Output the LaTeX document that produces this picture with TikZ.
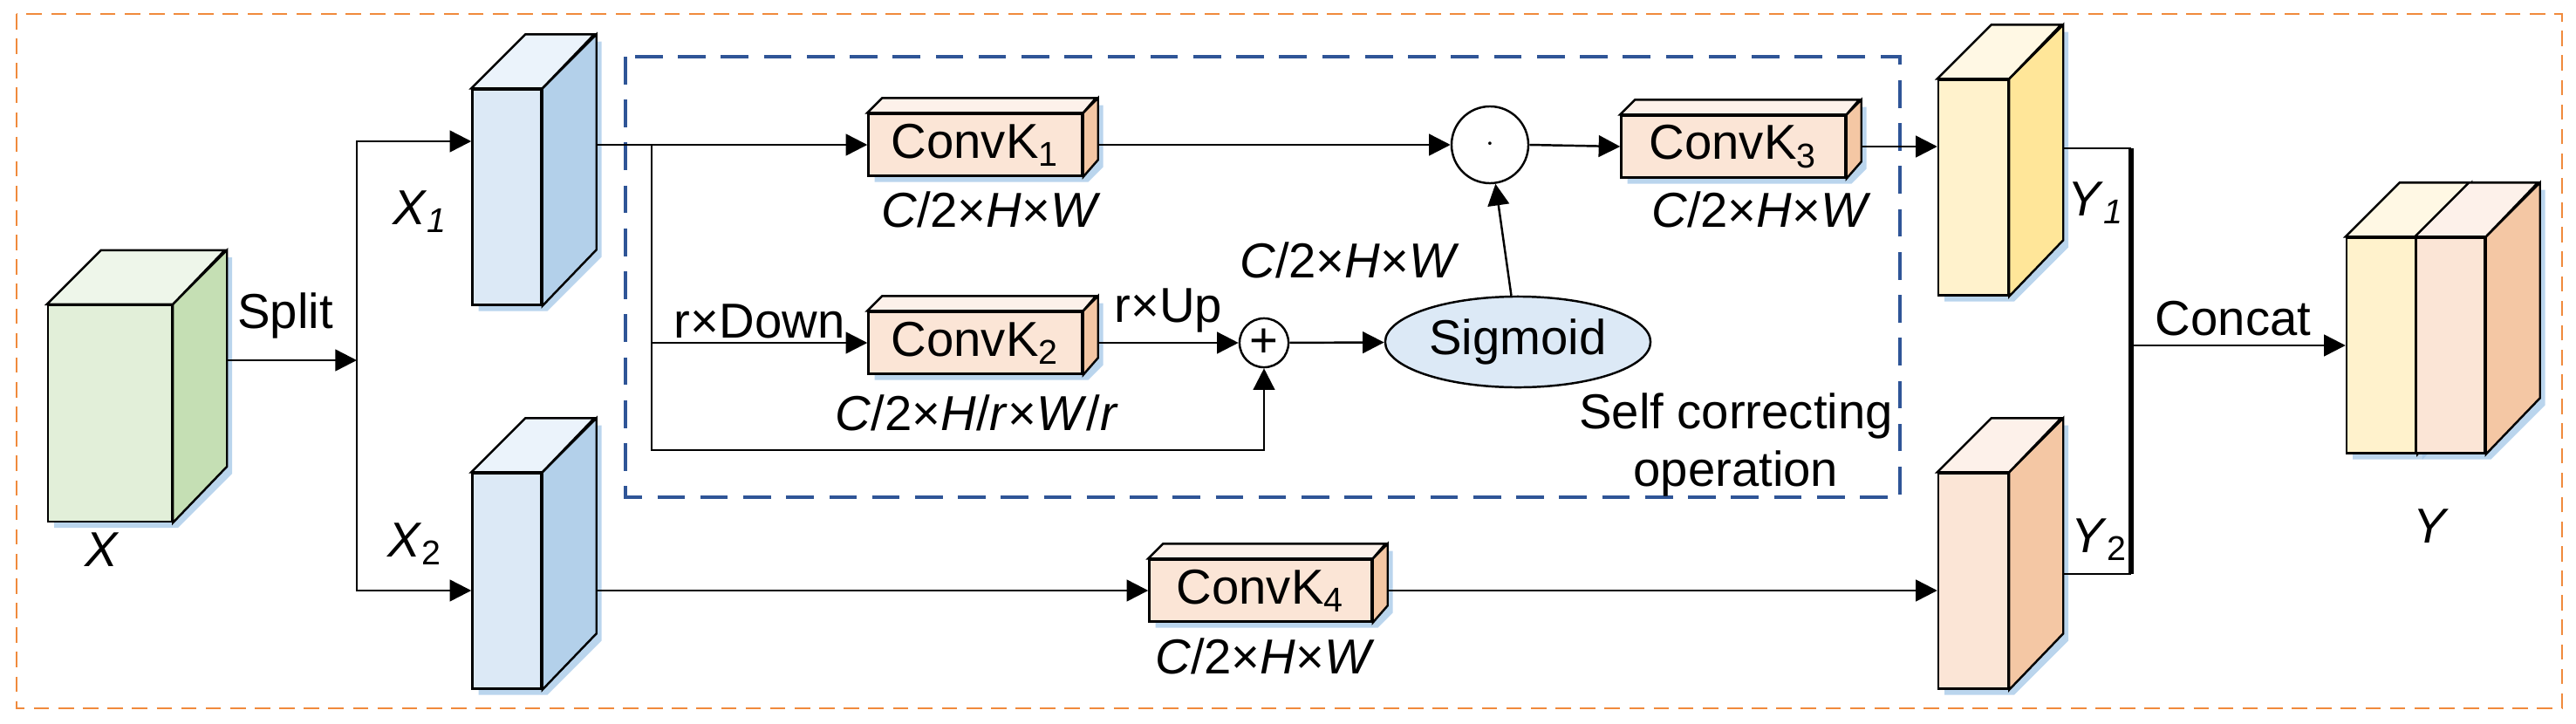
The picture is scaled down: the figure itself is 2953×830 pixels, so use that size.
\documentclass[tikz,border=0pt]{standalone}
\usepackage{fontspec}
\setmainfont{Liberation Sans}
\usetikzlibrary{arrows.meta,shapes.geometric}

\definecolor{grnF}{HTML}{E2EFD9}
\definecolor{grnS}{HTML}{C5DFB4}
\definecolor{grnT}{HTML}{EEF6EA}
\definecolor{bluF}{HTML}{DCE9F6}
\definecolor{bluS}{HTML}{B3D0EA}
\definecolor{bluT}{HTML}{EBF3FB}
\definecolor{ylwF}{HTML}{FFF2CC}
\definecolor{ylwS}{HTML}{FFE699}
\definecolor{ylwT}{HTML}{FFF8E4}
\definecolor{pchF}{HTML}{FBE5D6}
\definecolor{pchS}{HTML}{F4C7A4}
\definecolor{pchT}{HTML}{FDF1EA}
\definecolor{shd}{HTML}{9DC3E6}
\definecolor{bordO}{HTML}{F08A3C}
\definecolor{bordB}{HTML}{2F5597}

\tikzset{
  txt/.style={font=\fontsize{16}{19}\selectfont, inner sep=1pt},
  cubefront/.style={draw, line width=0.7pt, inner sep=0pt},
  arr/.style={-{Triangle[length=7pt,width=7pt]}, line width=0.7pt},
  ln/.style={line width=0.7pt},
}

% name, cx, cy, w, h, depth, front, side, top
\newcommand\blockcube[9]{%
  \fill[shd, opacity=0.7] ({#2-#4/2+7},{#3-#5/2+7}) -- ++(#6,-#6) -- ++(#4,0) -- ++(0,#5) -- ++(-#6,#6) -- ++(-#4,0) -- cycle;
  \node[cubefront, fill=#7, minimum width=#4*0.01cm, minimum height=#5*0.01cm] (#1) at (#2,#3) {};
  \draw[ln, fill=#8] (#1.north east) -- ++(#6,-#6) -- ++(0,#5) -- (#1.south east) -- cycle;
  \draw[ln, fill=#9] (#1.north west) -- ++(#6,-#6) -- ++(#4,0) -- (#1.north east) -- cycle;
}

\begin{document}
\begin{tikzpicture}[x=0.01cm, y=-0.01cm]
\useasboundingbox (0,0) rectangle (2953,830);
\draw[bordO, line width=0.8pt, dash pattern=on 5pt off 3pt] (19,16) rectangle (2937,812);
\draw[bordB, line width=1.3pt, dash pattern=on 9pt off 5pt] (717,65) rectangle (2178,570);

% feature maps
\blockcube{X}{126}{474}{142}{248}{62}{grnF}{grnS}{grnT}
\blockcube{X1}{581}{226}{79}{247}{62}{bluF}{bluS}{bluT}
\blockcube{X2}{581}{666}{79}{247}{62}{bluF}{bluS}{bluT}
\blockcube{Y1}{2262}{215}{80}{247}{62}{ylwF}{ylwS}{ylwT}
\blockcube{Y2}{2262}{666}{80}{247}{62}{pchF}{pchS}{pchT}
\blockcube{Ya}{2730}{396}{80}{247}{62}{ylwF}{ylwS}{ylwT}
\blockcube{Yb}{2809}{396}{79}{247}{62}{pchF}{pchS}{pchT}

% conv blocks
\blockcube{K1}{1118}{166}{245}{71}{17}{pchF}{pchS}{pchT}
\blockcube{K2}{1118}{393}{245}{71}{17}{pchF}{pchS}{pchT}
\blockcube{K3}{1987}{168}{257}{71}{17}{pchF}{pchS}{pchT}
\blockcube{K4}{1445}{677}{255}{71}{17}{pchF}{pchS}{pchT}
\node[txt] at (K1) {ConvK\textsubscript{1}};
\node[txt] at (K2) {ConvK\textsubscript{2}};
\node[txt] at (K3) {ConvK\textsubscript{3}};
\node[txt] at (K4) {ConvK\textsubscript{4}};

% operators
\node[draw, ln, circle, fill=white, minimum size=0.88cm, inner sep=0pt] (dot) at (1708,166) {$\cdot$};
\node[draw, ln, circle, fill=white, minimum size=0.48cm, inner sep=0pt, txt] (plus) at (1449,393) {+};
\node[draw, ln, ellipse, fill=bluF, minimum width=3.04cm, minimum height=1.04cm, txt] (sig) at (1740,392) {Sigmoid};

% labels
\node[txt] at (117,630) {\textit{X}};
\node[txt] at (482,243) {\textit{X}\textsubscript{\textit{1}}};
\node[txt] at (476,624) {\textit{X}\textsubscript{2}};
\node[txt] at (327,362) {Split};
\node[txt] at (2403,233) {\textit{Y}\textsubscript{\textit{1}}};
\node[txt] at (2407,619) {\textit{Y}\textsubscript{2}};
\node[txt] at (2560,365) {Concat};
\node[txt] at (2787,603) {\textit{Y}};
\node[txt] at (1136,240) {\textit{C}/2×\textit{H}×\textit{W}};
\node[txt] at (2019,240) {\textit{C}/2×\textit{H}×\textit{W}};
\node[txt] at (1547,298) {\textit{C}/2×\textit{H}×\textit{W}};
\node[txt] at (1120,473) {\textit{C}/2×\textit{H}/\textit{r}×\textit{W}/\textit{r}};
\node[txt] at (1450,752) {\textit{C}/2×\textit{H}×\textit{W}};
\node[txt, align=center] at (1990,510) {Self correcting\\operation};

% connectors
\coordinate (split) at (409,413);
\coordinate (br) at (747,166);
\coordinate (bartop) at (2443,170);
\coordinate (barbot) at (2443,658);
\draw[arr] ([xshift=0.62cm]X.east |- split) -- (split);
\draw[arr] (split) |- (X1.west |- 0,162);
\draw[arr] (split) |- (X2.west |- 0,677);
\draw[ln] ([xshift=0.62cm]X1.east |- br) -- (br);
\draw[arr] (br) -- (K1.west);
\draw[arr] (br) |- (K2.west) node[txt, pos=0.75, above] {r×Down};
\draw[arr] (br) |- (plus.south |- 0,516) -- (plus.south);
\draw[arr] ([xshift=0.17cm]K2.east) -- (plus.west) node[txt, midway, above, yshift=2pt] {r×Up};
\draw[arr] (plus) -- (sig);
\draw[arr] (sig) -- (dot);
\draw[arr] ([xshift=0.17cm]K1.east) -- (dot.west);
\draw[arr] (dot.east) -- (K3.west);
\draw[arr] ([xshift=0.17cm]K3.east) -- (Y1.west |- K3);
\draw[arr] ([xshift=0.62cm]X2.east |- K4) -- (K4.west);
\draw[arr] ([xshift=0.17cm]K4.east) -- (Y2.west |- K4);
\draw[ln] ([xshift=0.62cm]Y1.east |- bartop) -- (bartop);
\draw[ln] ([xshift=0.62cm]Y2.east |- barbot) -- (barbot);
\draw[line width=1.5pt] (bartop) -- (barbot);
\draw[arr] (bartop |- Ya.west) -- (Ya.west);
\end{tikzpicture}
\end{document}
